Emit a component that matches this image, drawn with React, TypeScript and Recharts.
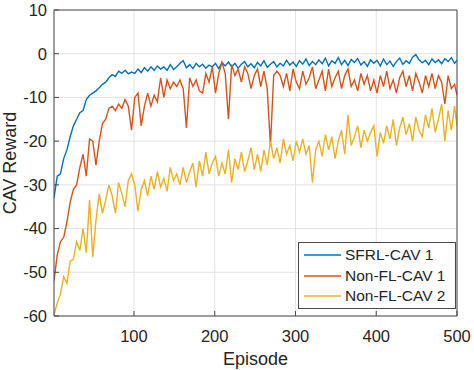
import React from 'react';
import { LineChart, Line, XAxis, YAxis, CartesianGrid, Legend } from 'recharts';

const SFRL_CAV1: number[] = [
  -33, -28, -27.5, -24, -22, -19, -16.5, -15, -13.5, -13,
  -10.5, -9.5, -9, -8.5, -7.8, -7, -6.5, -5.5, -4.8, -5.2,
  -4, -4.5, -3.8, -4.6, -4.2, -4.5, -3.5, -4.3, -3.2, -4,
  -3, -3.8, -2.8, -3.5, -3, -3.8, -2.5, -3.6, -3, -2.2,
  -1.6, -3.2, -2.5, -3.4, -2.2, -3, -2.4, -3.3, -2.6, -3,
  -2.2, -3.4, -2, -2.8, -1.9, -3, -2.2, -3.3, -2.4, -1.8,
  -3, -2.3, -3.2, -2, -2.8, -1.6, -3.1, -2.4, -1.8, -3,
  -2.2, -2.8, -1.5, -2.6, -1.9, -2.9, -1.6, -2.4, -1.2, -2.7,
  -1.8, -2.5, -1.4, -2.3, -1, -2.8, -1.6, -2.2, -0.9, -2.5,
  -1.5, -2.7, -1.3, -2, -1.1, -2.6, -1.8, -2.9, -1.4, -2.2,
  -1.5, -2.8, -1.2, -2.5, -1.7, -2.9, -1.8, -1, -2.4, -1.6,
  -2.2, -0.8, -0.2, -1.4, -2.1, -1.5, -2.5, -1.2, -2, -1.4,
  -2.3, -1.1, -1.8, -0.9, -2.2, -1.5,
];

const NON_FL_CAV1: number[] = [
  -52, -46, -43, -42, -38.5, -34, -31, -30, -26, -23,
  -28, -19.5, -20, -25.5, -20, -16, -15, -12.5, -12, -13,
  -11.5, -12.5, -10.5, -12, -17.5, -10, -9, -16.5, -12, -9,
  -12, -9.5, -11, -5.5, -10, -6, -8, -6.5, -7.5, -6,
  -8, -17, -5.5, -7.5, -6, -8.5, -9, -4.5, -6.5, -3,
  -9, -4.5, -2, -4.5, -15, -2.5, -5, -3.5, -6.5, -3,
  -4.5, -8, -5, -3.5, -7.5, -4, -8, -21, -5, -4,
  -5, -7.5, -4.5, -8.5, -3.5, -6.5, -8, -4, -7, -5.5,
  -3, -8, -6, -4, -8.5, -3.5, -7.5, -5.5, -4, -8,
  -5, -3.5, -7.5, -6, -8.5, -4.5, -7, -5, -8.5, -6,
  -9, -5, -7.5, -4, -8, -6, -9, -5.5, -4, -7.5,
  -5, -8.5, -4.5, -6.5, -9, -5, -7.5, -4.5, -8, -5,
  -6.5, -11.5, -5, -8, -7, -9.5,
];

const NON_FL_CAV2: number[] = [
  -59.8, -57, -55, -51, -52.5, -47.5, -47, -43, -45, -40,
  -45.5, -33.5, -46.5, -38, -32, -36.5, -33.5, -30, -32.5, -36.5,
  -29.5, -32, -35, -29, -27.5, -30, -36, -31, -29, -32.5,
  -28, -31, -27, -30.5, -28.5, -31.5, -26, -29, -27.5, -30,
  -26, -29.5, -27, -25, -30.5, -24.5, -28, -22.5, -27.5, -25,
  -23.5, -28, -25, -27.5, -22, -29.5, -24, -26.5, -22.5, -27,
  -24.5, -21.5, -26.5, -23, -27, -22, -25.5, -20, -24, -21.5,
  -25, -19.5, -23, -21, -24.5, -20, -22.5, -19.5, -23, -21,
  -29.5, -22, -20, -23.5, -18.5, -22, -19, -24, -20, -17.5,
  -23, -14, -21, -19, -16.5, -21.5, -17.5, -20, -18, -16.5,
  -23.5, -18, -20.5, -16.5, -19.5, -15, -21, -17, -14.5, -18.5,
  -16, -20, -14.5, -17.5, -19, -14, -17, -12.5, -18, -15,
  -11.5, -20, -13, -17.5, -12, -16.5,
];

const EPISODES: number[] = SFRL_CAV1.map((_, i) => Math.min(1 + 4 * i, 500));

const X_TICKS = [100, 200, 300, 400, 500];
const Y_TICKS = [-60, -50, -40, -30, -20, -10, 0, 10];

const SERIES = [
  { key: 'sfrl', name: 'SFRL-CAV 1', color: '#0072BD' },
  { key: 'nonfl1', name: 'Non-FL-CAV 1', color: '#D95319' },
  { key: 'nonfl2', name: 'Non-FL-CAV 2', color: '#EDB120' },
];

const data = EPISODES.map((ep, i) => ({
  episode: ep,
  sfrl: SFRL_CAV1[i],
  nonfl1: NON_FL_CAV1[i],
  nonfl2: NON_FL_CAV2[i],
}));

const AXIS_COLOR = '#4a4a4a';
const TEXT_COLOR = '#262626';
const FONT = '"Liberation Sans", Arial, Helvetica, sans-serif';

const renderLegend = () => (
  <div
    style={{
      width: 158,
      height: 67,
      boxSizing: 'border-box',
      border: `1px solid ${AXIS_COLOR}`,
      background: '#ffffff',
      paddingTop: 2,
      fontFamily: FONT,
    }}
  >
    {SERIES.map((s) => (
      <div key={s.key} style={{ height: 20.5, display: 'flex', alignItems: 'center' }}>
        <svg width={37} height={4} style={{ marginLeft: 5, marginRight: 4 }}>
          <line x1={0} y1={2} x2={37} y2={2} stroke={s.color} strokeWidth={1.6} />
        </svg>
        <span style={{ fontSize: 15.5, color: TEXT_COLOR, whiteSpace: 'nowrap' }}>{s.name}</span>
      </div>
    ))}
  </div>
);

const YLabel = (props: any) => {
  const vb = props.viewBox || { x: 0, y: 0, width: 0, height: 0 };
  const cx = vb.x + 15.5;
  const cy = vb.y + vb.height / 2;
  return (
    <text
      x={cx}
      y={cy}
      transform={`rotate(-90, ${cx}, ${cy})`}
      textAnchor="middle"
      fontSize={18}
      fill={TEXT_COLOR}
      fontFamily={FONT}
    >
      CAV Reward
    </text>
  );
};

const XLabel = (props: any) => {
  const vb = props.viewBox || { x: 0, y: 0, width: 0, height: 0 };
  const cx = vb.x + vb.width / 2;
  return (
    <text x={cx} y={vb.y + 49} textAnchor="middle" fontSize={18} fill={TEXT_COLOR} fontFamily={FONT}>
      Episode
    </text>
  );
};

export default function App() {
  return (
    <div style={{ position: 'absolute', left: 0, top: 0, width: 474, height: 370, background: '#fff', fontFamily: FONT }}>
      <LineChart width={474} height={370} data={data} margin={{ top: 0, right: 0, bottom: 0, left: 0 }}>
        <CartesianGrid stroke="#e3e3e3" strokeWidth={1} />
        <XAxis
          dataKey="episode"
          type="number"
          domain={[1, 500]}
          ticks={X_TICKS}
          height={54}
          stroke={AXIS_COLOR}
          tickSize={-5}
          tickMargin={19}
          tick={{ fontSize: 16.5, fill: TEXT_COLOR }}
          label={<XLabel />}
          allowDataOverflow
        />
        <XAxis
          xAxisId="top"
          orientation="top"
          dataKey="episode"
          type="number"
          domain={[1, 500]}
          ticks={X_TICKS}
          height={10}
          stroke={AXIS_COLOR}
          tickSize={-5}
          tick={false}
          allowDataOverflow
        />
        <YAxis
          type="number"
          domain={[-60, 10]}
          ticks={Y_TICKS}
          width={54}
          stroke={AXIS_COLOR}
          tickSize={-5}
          tickMargin={12}
          tick={{ fontSize: 16.5, fill: TEXT_COLOR }}
          label={<YLabel />}
          allowDataOverflow
        />
        <YAxis
          yAxisId="right"
          orientation="right"
          type="number"
          domain={[-60, 10]}
          ticks={Y_TICKS}
          width={17}
          stroke={AXIS_COLOR}
          tickSize={-5}
          tick={false}
          allowDataOverflow
        />
        {SERIES.map((s) => (
          <Line
            key={s.key}
            type="linear"
            dataKey={s.key}
            name={s.name}
            stroke={s.color}
            strokeWidth={1.4}
            dot={false}
            activeDot={false}
            isAnimationActive={false}
          />
        ))}
        <Legend
          layout="vertical"
          align="center"
          verticalAlign="middle"
          content={renderLegend}
          wrapperStyle={{ position: 'absolute', left: 298, top: 242, width: 158, height: 67 }}
        />
      </LineChart>
    </div>
  );
}
